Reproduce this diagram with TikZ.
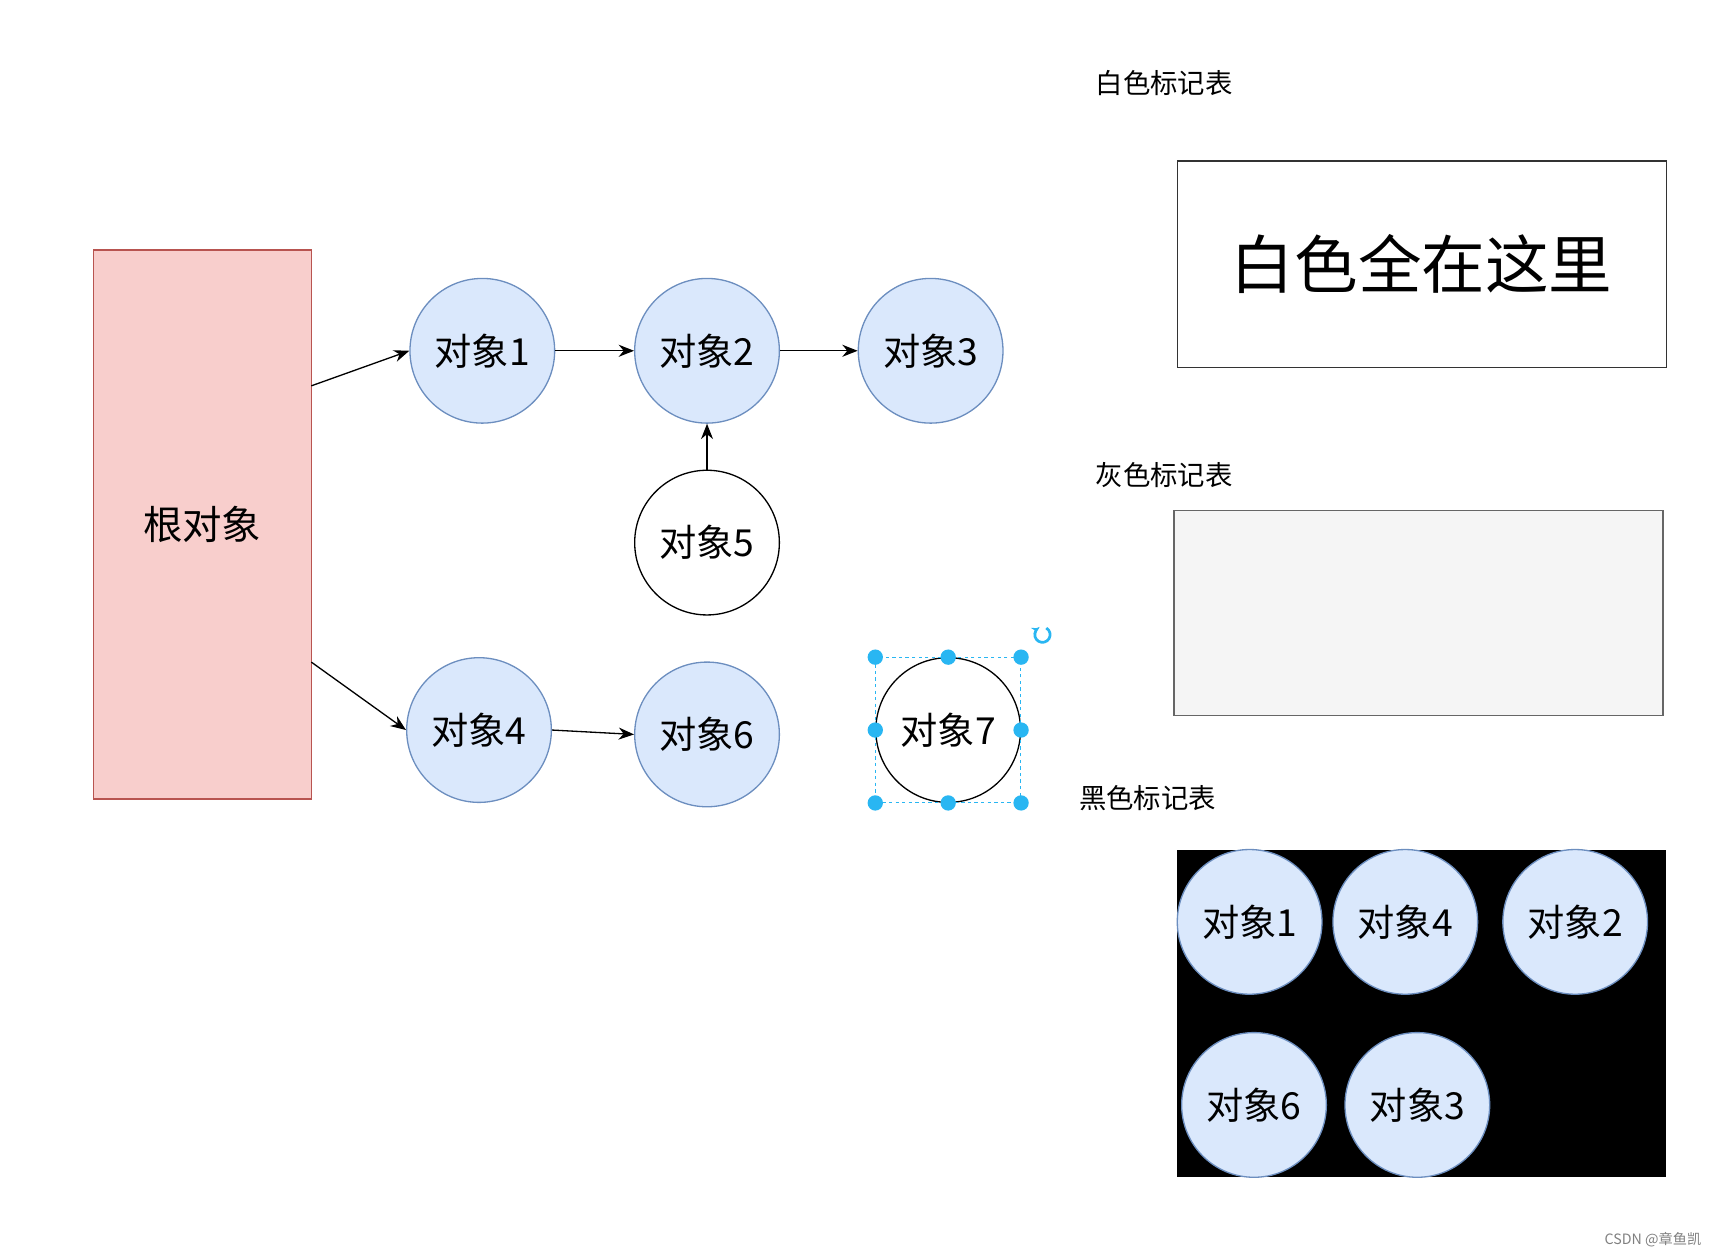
\documentclass[tikz,border=0pt]{standalone}
\usepackage{fontspec}
\setmainfont{Noto Sans CJK SC}
\usetikzlibrary{arrows.meta}
\definecolor{bluef}{HTML}{DAE8FC}\definecolor{blued}{HTML}{6C8EBF}
\definecolor{redf}{HTML}{F8CECC}\definecolor{redd}{HTML}{B85450}
\definecolor{sel}{HTML}{29B6F2}
\begin{document}
\begin{tikzpicture}[x=1pt,y=-1pt,
 obj/.style={circle,draw=blued,fill=bluef,line width=1.2pt,minimum size=132pt,inner sep=0pt,font=\fontsize{34}{36}\selectfont},
 wobj/.style={obj,draw=black,fill=white},
 arr/.style={-{Stealth[length=14pt,width=11pt]},line width=1.2pt},
 lbl/.style={font=\fontsize{25}{27}\selectfont},
 hd/.style={circle,fill=sel,minimum size=14pt,inner sep=0pt}]
\useasboundingbox (0,0) rectangle (1560,1140);
\node[draw=redd,fill=redf,line width=1.2pt,minimum width=199pt,minimum height=501pt,inner sep=0pt,font=\fontsize{36}{38}\selectfont] (root) at (184.5,478.5) {根对象};
\node[obj] (o1) at (440,320) {对象1};
\node[obj] (o2) at (645,320) {对象2};
\node[obj] (o3) at (849,320) {对象3};
\node[wobj] (o5) at (645,495) {对象5};
\node[obj] (o4) at (437,666) {对象4};
\node[obj] (o6) at (645,670) {对象6};
\node[wobj] (o7) at (865,666) {对象7};
\coordinate (r1) at (284,352); \coordinate (r2) at (284,604);
\draw[arr] (r1) -- (o1.west);
\draw[arr] (r2) -- (o4.west);
\draw[arr] (o1) -- (o2);
\draw[arr] (o2) -- (o3);
\draw[arr] (o5) -- (o2);
\draw[arr] (o4.east) -- (o6.west);
% selection
\node[draw=sel,dashed,line width=1pt,minimum size=132pt,inner sep=0pt] (s) at (865,666) {};
\foreach \a in {north west,north,north east,west,east,south west,south,south east}{\node[hd] at (s.\a) {};}
\coordinate (rot) at (951,579);
\draw[sel,line width=2.5pt,-{Stealth[length=6pt,width=7pt]}] ([shift={(60:7pt)}]rot) arc[start angle=60,end angle=-240,radius=7pt];
% tables
\node[lbl] (t1) at (1062,76) {白色标记表};
\node[draw=black!80,line width=1.2pt,minimum width=446pt,minimum height=188pt,inner sep=0pt,font=\fontsize{58}{60}\selectfont] (w) at (1297,241) {白色全在这里};
\node[lbl] (t2) at (1062,433) {灰色标记表};
\node[draw=black!60,fill=black!4,line width=1.2pt,minimum width=446pt,minimum height=187pt,inner sep=0pt] (g) at (1294,559.5) {};
\node[lbl] (t3) at (1047,728) {黑色标记表};
\node[fill=black,minimum width=446pt,minimum height=299pt,inner sep=0pt] (b) at (1297,924.5) {};
\node[obj] (b1) at (1140,841) {对象1};
\node[obj] (b4) at (1282,841) {对象4};
\node[obj] (b2) at (1437,841) {对象2};
\node[obj] (b6) at (1144,1008) {对象6};
\node[obj] (b3) at (1293,1008) {对象3};
\node[text=black!50,font=\fontsize{13}{14}\selectfont] (wm) at (1508,1131) {CSDN @章鱼凯};
\end{tikzpicture}
\end{document}
